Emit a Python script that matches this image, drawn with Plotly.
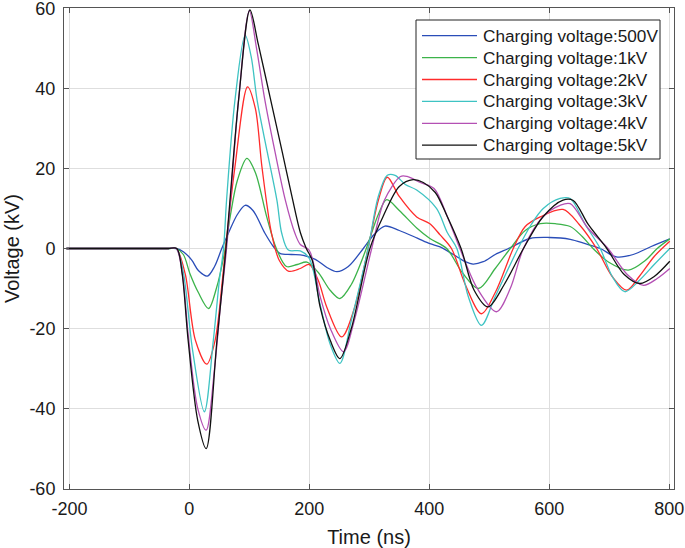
import plotly.graph_objects as go

# ---- data (time in ns, voltage in kV) ----
names = ["Charging voltage:500V", "Charging voltage:1kV", "Charging voltage:2kV",
         "Charging voltage:3kV", "Charging voltage:4kV", "Charging voltage:5kV"]
colors = ["#2a4db8", "#3cb34a", "#ff2b2b", "#3ec3c3", "#b450b4", "#111111"]

t_500 = [-205, -160, -110, -60, -35, -22, -10, 4, 15, 30, 42, 54, 65, 80, 93, 106, 126, 140,
         151, 170, 190, 210, 230, 246, 265, 290, 308, 326, 350, 380, 401, 418, 440, 460, 473,
         490, 510, 532, 568, 600, 635, 660, 685, 712, 740, 770, 801]
v_500 = [0, 0, 0, 0, 0, 0, -0.8, -2.9, -5.5, -6.9, -4.5, 0, 3.8, 8.5, 10.8, 9.5, 3.8, 0.5,
         -1.2, -1.5, -1.7, -2.7, -4.8, -5.8, -4.5, 0, 3.5, 5.6, 4.5, 2.6, 1.2, 0.4, -1.5,
         -3.3, -3.9, -3.3, -1.5, 0, 2.5, 2.75, 2.3, 1.2, 0, -2.1, -1.5, 0.5, 2.4]

t_1k = [-205, -160, -110, -60, -35, -22, -10, 1, 15, 32, 45, 58, 68, 80, 96, 110, 129, 145,
        162, 180, 196, 215, 235, 251, 270, 295, 315, 329, 350, 380, 401, 429, 455, 482, 510,
        535, 560, 585, 610, 635, 655, 673, 700, 732, 760, 780, 801]
v_1k = [0, 0, 0, 0, 0, 0, -1.5, -6.3, -11, -15, -10, -1.5, 7.9, 17, 22.5, 19, 7.9, 0, -4.5,
        -4, -3.4, -6, -10.5, -12.5, -9, 0, 8.5, 12.2, 9.5, 5, 2.5, 0, -6, -10, -5, 0, 4.5,
        6.2, 6.2, 5.5, 3, 0, -3.5, -5.4, -3, 0, 2.4]

t_2k = [-205, -160, -110, -60, -35, -22, -7, 10, 29, 43, 55, 63, 76, 97, 110, 121, 137, 150,
        166, 185, 200, 215, 229, 254, 275, 298, 315, 330, 350, 379, 401, 418, 437, 460, 487,
        510, 540, 560, 585, 623, 650, 679, 705, 729, 750, 775, 801]
v_2k = [0, 0, 0, 0, 0, 0, -6.3, -22.9, -28.9, -22.9, -8, 3.8, 20.4, 40.4, 35, 20.4, 3.8, -3,
        -5.7, -5, -4, -8, -14.6, -22.1, -15, 0, 12, 17.8, 13, 7.9, 6.2, 3.4, 0, -9, -16.3,
        -11, 0, 5.5, 7.9, 9.75, 6, 0, -7, -10.4, -7, -2, 1.8]

t_3k = [-205, -160, -110, -60, -35, -22, -10, 5, 25, 40, 50, 57, 62, 76, 93, 103, 113, 130,
        146, 154, 165, 185, 200, 218, 235, 251, 270, 298, 315, 330, 343, 360, 379, 412, 430,
        446, 465, 487, 510, 548, 570, 590, 618, 635, 660, 685, 705, 726, 750, 775, 801]
v_3k = [0, 0, 0, 0, 0, 0, -6, -25, -40.8, -22.9, -8, 0, 12, 37, 53.3, 48, 37, 24, 12, 3.8,
        -0.4, -0.6, -2.5, -14, -24, -28.7, -18, 0, 13, 18.3, 18.3, 16, 14.6, 10, 4, 0, -12,
        -19.2, -12, 0, 6, 10, 12.5, 12.5, 6, 0, -7, -10.8, -8, -4, 0]

t_4k = [-205, -160, -110, -60, -35, -22, -12, -1, 14, 28, 42, 52, 62, 82, 100, 112, 126, 143,
        160, 176, 185, 200, 218, 235, 257, 275, 304, 325, 352, 363, 385, 408, 430, 451, 480,
        512, 535, 557, 590, 618, 635, 665, 698, 730, 757, 780, 801]
v_4k = [0, 0, 0, 0, 0, 0, -6, -23, -40, -45.4, -30, -14, 0, 37, 59.4, 50, 37, 24, 12.1, 3.8,
        1, -0.5, -12, -20, -25.8, -18, 0, 12, 18, 18, 16.5, 15, 8, 0, -10, -15.8, -10, 0, 8,
        10.8, 11.2, 5, 0, -6.5, -9.2, -7.5, -5]

t_5k = [-205, -160, -110, -60, -35, -21, -12, -2, 14, 28, 46, 61, 82, 101, 115, 135, 155,
        171, 185, 195, 205, 218, 235, 251, 270, 301, 323, 350, 373, 390, 410, 430, 453, 475,
        498, 525, 557, 590, 623, 640, 665, 696, 725, 751, 775, 801]
v_5k = [0, 0, 0, 0, 0, 0, -6.3, -23, -43, -50, -23, 0, 37, 59.6, 51, 37.5, 24, 13, 4, 0, -3,
        -14.6, -23, -27.5, -20, 0, 8, 15.5, 17.2, 16.5, 14, 8, 0, -10.5, -14.6, -9, 0, 8,
        12.1, 12, 6, 0, -6.5, -8.75, -7, -3.2]

series_t = [t_500, t_1k, t_2k, t_3k, t_4k, t_5k]
series_v = [v_500, v_1k, v_2k, v_3k, v_4k, v_5k]

x_ticks = [-200, 0, 200, 400, 600, 800]
y_ticks = [-60, -40, -20, 0, 20, 40, 60]

fig = go.Figure()
for name, col, tt, vv in zip(names, colors, series_t, series_v):
    fig.add_trace(go.Scatter(x=tt, y=vv, mode="lines", name=name, showlegend=False,
                             line=dict(color=col, width=1.3, shape="spline", smoothing=0.9)))

font = "Liberation Sans, Arial, sans-serif"
axis_common = dict(showline=True, linecolor="#555555", linewidth=1, mirror="ticks",
                   ticks="inside", ticklen=5, tickcolor="#555555", showgrid=True,
                   gridcolor="#dedede", gridwidth=1, zeroline=False,
                   ticklabeloverflow="allow", automargin=False,
                   tickfont=dict(family=font, size=18, color="#1a1a1a"))

# ---- legend box drawn as layout decoration (plot area: x 64..674, y 8..489 px) ----
PW, PH = 610.0, 481.0
def px_x(p):
    return (p - 64) / PW
def px_y(p):
    return (489 - p) / PH

shapes = [dict(type="rect", xref="paper", yref="paper", x0=px_x(416), x1=px_x(660),
               y0=px_y(159), y1=px_y(20), line=dict(color="#222222", width=1),
               fillcolor="white", layer="above")]
annotations = []
row_gap = 21.9
for i, (name, col) in enumerate(zip(names, colors)):
    yc = 35.7 + i * row_gap
    shapes.append(dict(type="line", xref="paper", yref="paper", x0=px_x(422), x1=px_x(477),
                       y0=px_y(yc), y1=px_y(yc), line=dict(color=col, width=1.3),
                       layer="above"))
    annotations.append(dict(text=name, xref="paper", yref="paper", x=px_x(481), y=px_y(yc),
                            xanchor="left", yanchor="middle", showarrow=False,
                            font=dict(family=font, size=17.2, color="#1a1a1a")))

fig.update_layout(
    width=685, height=548,
    margin=dict(l=64, r=11, t=8, b=59),
    paper_bgcolor="white", plot_bgcolor="white",
    font=dict(family=font, color="#1a1a1a"),
    xaxis=dict(range=[-209, 808], tickvals=x_ticks, ticktext=[str(v) for v in x_ticks],
               ticklabelstandoff=3,
               title=dict(text="Time (ns)", font=dict(family=font, size=20), standoff=18),
               **axis_common),
    yaxis=dict(range=[-60.1, 60.1], tickvals=y_ticks, ticktext=[str(v) for v in y_ticks],
               ticklabelstandoff=4,
               title=dict(text="Voltage (kV)", font=dict(family=font, size=20), standoff=4),
               **axis_common),
    shapes=shapes,
    annotations=annotations,
    showlegend=False,
)

fig.write_html("out.html")
